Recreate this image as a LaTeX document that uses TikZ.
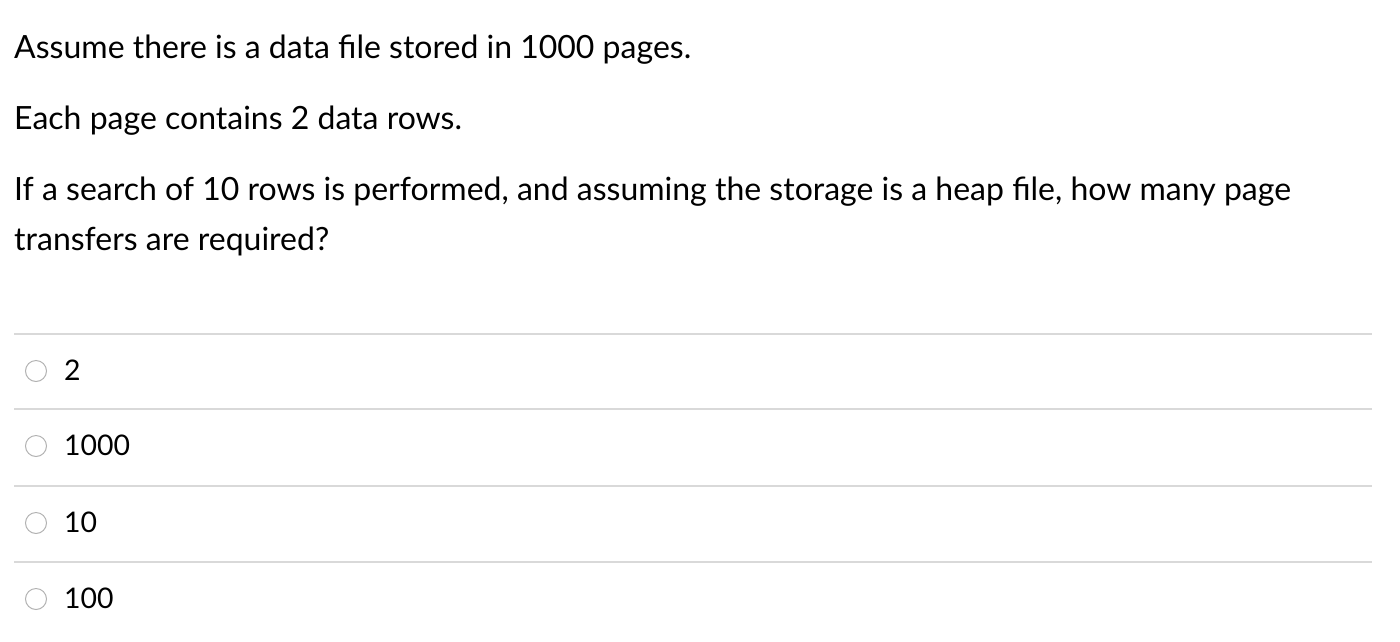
\documentclass[tikz,border=0pt]{standalone}
\usepackage{fontspec}
\setmainfont{Lato}
\usetikzlibrary{positioning}
\begin{document}
\begin{tikzpicture}[
	x=1pt, y=-1pt,
	qtext/.style={anchor=base west, inner sep=0pt, font=\fontsize{32}{38}\selectfont},
	otext/.style={anchor=base west, inner sep=0pt, font=\fontsize{28.4}{34}\selectfont},
	radio/.style={circle, draw=gray!60, line width=1pt, minimum size=21pt, inner sep=0pt},
	sep/.style={draw=gray!30, line width=1.2pt}
	]
	\useasboundingbox (0,0) rectangle (1400,641);
	% question
	\node [qtext] (q1) at (14,58) {Assume there is a data file stored in 1000 pages.};
	\node [qtext] (q2) at (14,129) {Each page contains 2 data rows.};
	\node [qtext] (q3) at (14,200) {If a search of 10 rows is performed, and assuming the storage is a heap file, how many page};
	\node [qtext] (q4) at (14,250) {transfers are required?};
	% answers
	\foreach \i/\y/\lbl in {1/334/2, 2/409/1000, 3/486/10, 4/562/100} {
		\draw [sep] (14,\y) -- (1372,\y);
		\node [radio] (r\i) at (36,\y+37) {};
		\node [otext] (a\i) at (64,\y+46) {\lbl};
	}
\end{tikzpicture}
\end{document}
